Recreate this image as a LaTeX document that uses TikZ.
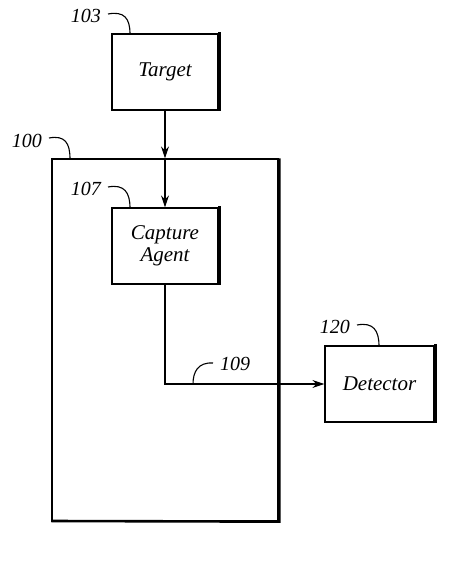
\documentclass[tikz,border=0pt]{standalone}
\usepackage{fontspec}
\setmainfont{Liberation Serif}
\usetikzlibrary{arrows.meta}
\begin{document}
\begin{tikzpicture}[x=1pt,y=-1pt,
  boxs/.style={draw,line width=1.2pt,minimum width=106pt,minimum height=76pt,inner sep=0pt,font=\itshape\fontsize{21}{23}\selectfont,align=center},
  lbl/.style={font=\itshape\fontsize{20}{22}\selectfont,inner sep=0pt},
  lead/.style={line width=1.1pt},
  conn/.style={line width=1.2pt},
  tip/.style={-{Stealth[length=12pt,width=8pt]}}]
\useasboundingbox (0,0) rectangle (474,563);
% outer box 100
\node[draw,line width=1.2pt,minimum width=226pt,minimum height=362pt,inner sep=0pt] (outer) at (165,340) {};
\draw[line width=2.6pt] ([xshift=0.6pt]outer.north east) -- ([xshift=0.6pt]outer.south east) -- ([yshift=0.6pt]outer.south west);
% boxes
\node[boxs] (target) at (165,72) {Target};
\node[boxs] (capture) at (165,246) {Capture\\[-1pt]Agent};
\node[boxs,minimum width=109pt] (detector) at (379.5,384) {Detector};
\foreach \b in {target,capture,detector}{
  \draw[line width=2.6pt] ([xshift=0.6pt,yshift=1pt]\b.north east) -- ([xshift=0.6pt,yshift=0.6pt]\b.south east) -- ([xshift=1pt,yshift=0.6pt]\b.south west);
}
% connectors
\coordinate (enter) at (target.south |- outer.north);
\draw[conn,tip] (target.south) -- (enter);
\draw[conn,tip] (enter) -- (capture.north);
\draw[conn,tip] (capture.south) |- (detector.west);
% labels
\node[lbl,anchor=east] (l103) at (101,16) {103};
\draw[lead] (108,14) .. controls (124,11) and (130,18) .. (130,34);
\node[lbl,anchor=east] (l100) at (42,141) {100};
\draw[lead] (49,138) .. controls (65,135) and (70,143) .. (70,159);
\node[lbl,anchor=east] (l107) at (101,189) {107};
\draw[lead] (108,187) .. controls (124,184) and (130,192) .. (130,208);
\node[lbl,anchor=east] (l120) at (350,327) {120};
\draw[lead] (357,325) .. controls (373,322) and (379,330) .. (379,346);
\node[lbl,anchor=west] (l109) at (220,364) {109};
\draw[lead] (213,363) .. controls (198,362) and (193,372) .. (193,384);
\end{tikzpicture}
\end{document}
